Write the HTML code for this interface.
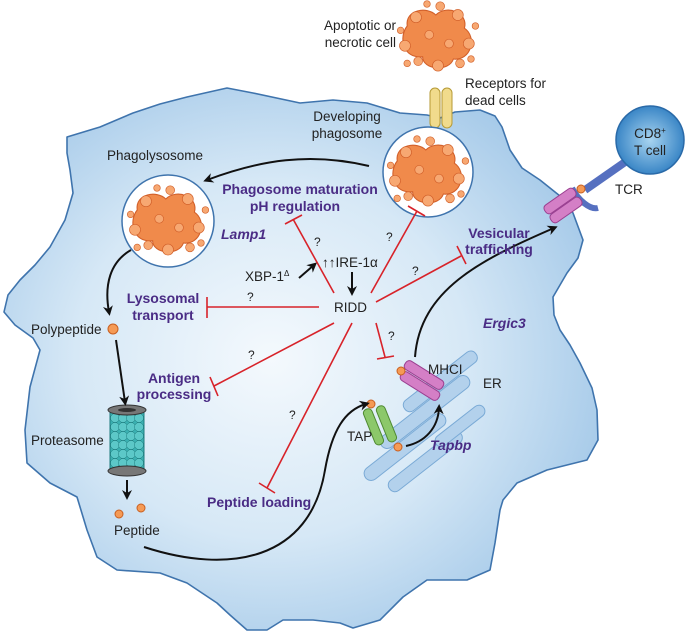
<!DOCTYPE html>
<html><head><meta charset="utf-8"><style>
html,body{margin:0;padding:0;background:#fff;width:685px;height:638px;overflow:hidden}
svg text{font-family:"Liberation Sans",sans-serif}
.p{fill:#4a2c85;font-weight:bold;font-size:14px}
.k{fill:#222;font-size:13.5px}
.q{fill:#222;font-size:12px}
.r{stroke:#d8232a;stroke-width:1.6;fill:none}
.b{stroke:#111;stroke-width:2;fill:none}
</style></head><body>
<svg width="685" height="638" viewBox="0 0 685 638" xmlns="http://www.w3.org/2000/svg">
<defs>
<radialGradient id="cg" cx="0.45" cy="0.5" r="0.6">
<stop offset="0" stop-color="#f4f9fd"/><stop offset="0.55" stop-color="#d6e8f6"/><stop offset="1" stop-color="#a3c8e8"/></radialGradient>
<radialGradient id="tg" cx="0.5" cy="0.5" r="0.5"><stop offset="0" stop-color="#a8d4f0"/><stop offset="1" stop-color="#3a86c6"/></radialGradient>
<marker id="ah" markerWidth="10" markerHeight="10" refX="6" refY="5" orient="auto" markerUnits="userSpaceOnUse"><path d="M0,0 L10,5 L0,10 L3,5z" fill="#111"/></marker>
<g id="blob">
<path d="M-28,-10 C-30,-25 -10,-28 -2,-20 C8,-30 28,-22 24,-8 C36,0 30,22 14,20 C10,32 -14,30 -14,18 C-32,20 -36,0 -28,-10z" fill="#f08a4b" stroke="#d2602a" stroke-width="1"/>
<g fill="#f7a872" stroke="#d2602a" stroke-width=".6">
<circle cx="-20" cy="-18" r="5"/><circle cx="18" cy="-20" r="5"/><circle cx="28" cy="6" r="5"/><circle cx="-30" cy="8" r="5"/><circle cx="0" cy="26" r="5"/><circle cx="-8" cy="-2" r="4"/><circle cx="10" cy="6" r="4"/><circle cx="-18" cy="22" r="4"/><circle cx="20" cy="24" r="4"/><circle cx="2" cy="-28" r="4"/><circle cx="-34" cy="-6" r="3"/><circle cx="34" cy="-10" r="3"/><circle cx="30" cy="20" r="3"/><circle cx="-28" cy="24" r="3"/><circle cx="-10" cy="-30" r="3"/>
</g></g>
</defs>
<!-- cell -->
<path stroke-linejoin="round" d="M67,137 L100,127 L133,113 L160,104 L187,97 L227,88 L253,93 L300,103 L333,100 L367,103 L400,113 L427,115 L440,118 L455,112 L480,110 L495,116 L502,127 L510,150 L522,168 L540,180 L565,200 L573,213 L583,240 L578,258 L567,273 L553,297 L554,315 L560,330 L570,345 L580,363 L592,388 L597,410 L598,440 L587,460 L547,470 L517,483 L503,500 L500,510 L495,543 L490,570 L467,580 L427,580 L403,597 L380,620 L353,628 L340,623 L313,620 L283,620 L267,630 L247,630 L230,615 L217,603 L187,583 L160,573 L117,570 L97,557 L87,530 L77,497 L50,483 L27,463 L25,430 L30,387 L40,350 L33,338 L15,325 L4,312 L8,295 L20,280 L35,265 L50,247 L65,220 L73,193 L70,170 L67,153 Z" fill="url(#cg)" stroke="#3f74ad" stroke-width="1.6"/>
<!-- ER -->
<g fill="#b3d1ec" stroke="#7aaad6" stroke-width="1">
<rect x="395" y="375" width="90" height="13" rx="6" transform="rotate(-38 440 381)"/>
<rect x="370" y="405" width="110" height="14" rx="7" transform="rotate(-38 425 412)"/>
<rect x="355" y="440" width="100" height="14" rx="7" transform="rotate(-38 405 447)"/>
<rect x="380" y="455" width="90" height="13" rx="6" transform="rotate(-38 425 461)"/>
<rect x="430" y="420" width="60" height="12" rx="6" transform="rotate(-38 460 426)"/>
</g>
<!-- apoptotic -->
<use href="#blob" transform="translate(438,37) scale(1.1)"/>
<!-- receptors -->
<rect x="430" y="88" width="10" height="40" rx="5" fill="#f1db8c" stroke="#b69a35"/>
<rect x="442" y="88" width="10" height="40" rx="5" fill="#f1db8c" stroke="#b69a35"/>
<!-- phagosome -->
<circle cx="428" cy="172" r="45" fill="#fff" stroke="#3f74ad" stroke-width="1.5"/>
<use href="#blob" transform="translate(428,172) scale(1.1)"/>
<!-- phagolysosome -->
<circle cx="168" cy="221" r="46" fill="#fff" stroke="#3f74ad" stroke-width="1.5"/>
<use href="#blob" transform="translate(168,221) scale(1.1)"/>
<!-- T cell -->
<path d="M628,160 L585,190" stroke="#5670c0" stroke-width="8"/>
<path d="M572,188 C578,200 590,210 598,208" stroke="#5670c0" stroke-width="6" fill="none"/>
<circle cx="650" cy="140" r="34" fill="url(#tg)" stroke="#2a6aa8" stroke-width="1.5"/>
<text x="650" y="138" text-anchor="middle" class="k">CD8<tspan font-size="8" dy="-5">+</tspan></text>
<text x="650" y="155" text-anchor="middle" class="k">T cell</text>
<rect x="542" y="196" width="36" height="10" rx="4" fill="#d47fc6" stroke="#9a3f90" transform="rotate(-35 560 201)"/>
<rect x="548" y="205" width="36" height="10" rx="4" fill="#d47fc6" stroke="#9a3f90" transform="rotate(-35 566 210)"/>
<circle cx="581" cy="189" r="4" fill="#f59a55" stroke="#c85f20"/>
<!-- MHCI -->
<rect x="402" y="370" width="44" height="10" rx="4" fill="#d47fc6" stroke="#9a3f90" transform="rotate(32 424 375)"/>
<rect x="398" y="381" width="44" height="10" rx="4" fill="#d47fc6" stroke="#9a3f90" transform="rotate(32 420 386)"/>
<circle cx="401" cy="371" r="4" fill="#f59a55" stroke="#c85f20"/>
<!-- TAP -->
<rect x="369" y="408" width="9" height="38" rx="4" fill="#8cc86a" stroke="#4f8a31" transform="rotate(-22 373 427)"/>
<rect x="382" y="405" width="9" height="38" rx="4" fill="#8cc86a" stroke="#4f8a31" transform="rotate(-22 386 424)"/>
<circle cx="371" cy="404" r="4" fill="#f59a55" stroke="#c85f20"/>
<circle cx="398" cy="447" r="4" fill="#f59a55" stroke="#c85f20"/>
<!-- proteasome -->
<rect x="110" y="412" width="34" height="60" fill="#3bb1b2" stroke="#1d7b7d"/>
<g fill="#5cc8c8" stroke="#1d7b7d" stroke-width=".5">
<circle cx="115" cy="418" r="4.5"/><circle cx="123" cy="418" r="4.5"/><circle cx="131" cy="418" r="4.5"/><circle cx="139" cy="418" r="4.5"/>
<circle cx="115" cy="427" r="4.5"/><circle cx="123" cy="427" r="4.5"/><circle cx="131" cy="427" r="4.5"/><circle cx="139" cy="427" r="4.5"/>
<circle cx="115" cy="436" r="4.5"/><circle cx="123" cy="436" r="4.5"/><circle cx="131" cy="436" r="4.5"/><circle cx="139" cy="436" r="4.5"/>
<circle cx="115" cy="445" r="4.5"/><circle cx="123" cy="445" r="4.5"/><circle cx="131" cy="445" r="4.5"/><circle cx="139" cy="445" r="4.5"/>
<circle cx="115" cy="454" r="4.5"/><circle cx="123" cy="454" r="4.5"/><circle cx="131" cy="454" r="4.5"/><circle cx="139" cy="454" r="4.5"/>
<circle cx="115" cy="463" r="4.5"/><circle cx="123" cy="463" r="4.5"/><circle cx="131" cy="463" r="4.5"/><circle cx="139" cy="463" r="4.5"/>
</g>
<ellipse cx="127" cy="410" rx="19" ry="5" fill="#777" stroke="#333"/>
<ellipse cx="127" cy="410" rx="9" ry="2" fill="#333"/>
<ellipse cx="127" cy="471" rx="19" ry="5" fill="#777" stroke="#333"/>
<!-- peptides -->
<circle cx="113" cy="329" r="5" fill="#f59a55" stroke="#c85f20"/>
<circle cx="119" cy="514" r="4" fill="#f59a55" stroke="#c85f20"/>
<circle cx="141" cy="508" r="4" fill="#f59a55" stroke="#c85f20"/>
<!-- black arrows -->
<path class="b" d="M369,166 C310,152 260,160 207,180" marker-end="url(#ah)"/>
<path class="b" d="M131,250 C110,262 104,285 109,312" marker-end="url(#ah)"/>
<path class="b" d="M116,340 L125,402" marker-end="url(#ah)"/>
<path class="b" d="M127,480 L127,496" marker-end="url(#ah)"/>
<path class="b" d="M144,547 C230,575 310,560 325,470 C332,430 345,410 366,404" marker-end="url(#ah)"/>
<path class="b" d="M406,446 C425,442 438,428 439,408" marker-end="url(#ah)"/>
<path class="b" d="M415,357 C420,290 480,260 554,228" marker-end="url(#ah)"/>
<path class="b" d="M299,278 L314,265" marker-end="url(#ah)"/>
<path class="b" d="M352,272 L352,292" marker-end="url(#ah)"/>
<!-- red inhibition -->
<path class="r" d="M334,293 L293,219 M285,224 L302,215"/>
<path class="r" d="M371,293 L417,211 M408,206 L425,216"/>
<path class="r" d="M376,302 L461,256 M457,246 L466,264"/>
<path class="r" d="M319,307 L207,307 M207,297 L207,318"/>
<path class="r" d="M334,323 L214,386 M210,377 L218,396"/>
<path class="r" d="M352,323 L267,488 M259,483 L275,493"/>
<path class="r" d="M376,323 L385,357 M377,359 L394,356"/>
<!-- texts -->
<text x="396" y="30" text-anchor="end" class="k">Apoptotic or</text>
<text x="396" y="47" text-anchor="end" class="k">necrotic cell</text>
<text x="465" y="88" class="k">Receptors for</text>
<text x="465" y="105" class="k">dead cells</text>
<text x="347" y="121" text-anchor="middle" class="k">Developing</text>
<text x="347" y="138" text-anchor="middle" class="k">phagosome</text>
<text x="107" y="160" class="k">Phagolysosome</text>
<text x="300" y="194" text-anchor="middle" class="p">Phagosome maturation</text>
<text x="295" y="211" text-anchor="middle" class="p">pH regulation</text>
<text x="221" y="239" class="p" font-style="italic">Lamp1</text>
<text x="499" y="238" text-anchor="middle" class="p">Vesicular</text>
<text x="499" y="254" text-anchor="middle" class="p">trafficking</text>
<text x="615" y="194" class="k">TCR</text>
<text x="314" y="246" class="q">?</text>
<text x="386" y="241" class="q">?</text>
<text x="412" y="275" class="q">?</text>
<text x="247" y="301" class="q">?</text>
<text x="388" y="340" class="q">?</text>
<text x="248" y="359" class="q">?</text>
<text x="289" y="419" class="q">?</text>
<text x="245" y="281" class="k">XBP-1<tspan font-size="8" dy="-5">Δ</tspan></text>
<text x="322" y="267" class="k">↑↑IRE-1α</text>
<text x="334" y="312" class="k">RIDD</text>
<text x="163" y="303" text-anchor="middle" class="p">Lysosomal</text>
<text x="163" y="320" text-anchor="middle" class="p">transport</text>
<text x="31" y="334" class="k">Polypeptide</text>
<text x="483" y="328" class="p" font-style="italic">Ergic3</text>
<text x="174" y="383" text-anchor="middle" class="p">Antigen</text>
<text x="174" y="399" text-anchor="middle" class="p">processing</text>
<text x="428" y="374" class="k">MHCI</text>
<text x="483" y="388" class="k">ER</text>
<text x="31" y="445" class="k">Proteasome</text>
<text x="347" y="441" class="k">TAP</text>
<text x="430" y="450" class="p" font-style="italic">Tapbp</text>
<text x="207" y="507" class="p">Peptide loading</text>
<text x="114" y="535" class="k">Peptide</text>
</svg>
</body></html>
